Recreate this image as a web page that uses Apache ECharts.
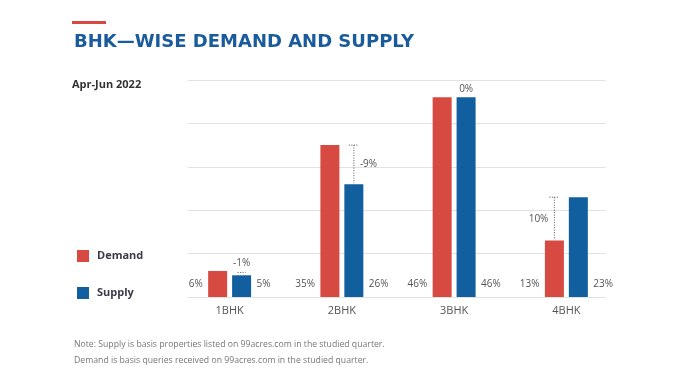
<!DOCTYPE html>
<html><head><meta charset="utf-8">
<script src="https://cdn.jsdelivr.net/npm/echarts@6/dist/echarts.min.js"></script>
<style>html,body{margin:0;padding:0;background:#fff}#c{width:680px;height:382px}</style>
</head><body><div id="c"></div>
<script>
var categories = ['1BHK', '2BHK', '3BHK', '4BHK'];
var demand = [6, 35, 46, 13];
var supply = [5, 26, 46, 23];
var changes = ['-1%', '-9%', '0%', '10%'];
var yTicks = [0, 10, 20, 30, 40, 50];

var RED = '#d64a42', BLUE = '#125fa0';
var chart = echarts.init(document.getElementById('c'), null, {renderer: 'canvas'});
var OFF = 12;

var annData = categories.map(function (c, i) { return [i, demand[i], supply[i]]; });

chart.setOption({
  animation: false,
  title: {
    text: 'BHK\u2014WISE DEMAND AND SUPPLY',
    left: 69, top: 28,
    textStyle: {fontFamily: 'DejaVu Sans', fontWeight: 'bold', fontSize: 18, color: '#1a5b9c'}
  },
  graphic: [
    {type: 'rect', shape: {x: 72, y: 21, width: 34, height: 3}, style: {fill: RED}},
    {type: 'text', left: 72, top: 79, style: {text: 'Apr-Jun 2022', font: 'bold 11px "Open Sans"', fill: '#333'}},
    {type: 'text', left: 74, top: 340, style: {text: 'Note: Supply is basis properties listed on 99acres.com in the studied quarter.', font: '8.7px "Open Sans"', fill: '#777'}},
    {type: 'text', left: 74, top: 356, style: {text: 'Demand is basis queries received on 99acres.com in the studied quarter.', font: '8.7px "Open Sans"', fill: '#777'}}
  ],
  legend: {
    orient: 'vertical', left: 72, top: 245,
    itemWidth: 12, itemHeight: 12, itemGap: 25,
    icon: 'rect',
    textStyle: {fontFamily: 'Open Sans', fontWeight: 'bold', fontSize: 11, color: '#3a3a48', padding: [0, 0, 0, 3]},
    data: ['Demand', 'Supply']
  },
  grid: [
    {left: 173.5, right: 57.5, top: 80, bottom: 85},
    {left: 188, right: 74, top: 80, bottom: 85}
  ],
  xAxis: [
    {type: 'category', data: categories, gridIndex: 0,
     axisLine: {show: false}, axisTick: {show: false},
     axisLabel: {fontFamily: 'Open Sans', fontSize: 11, color: '#555', margin: 8}},
    {type: 'category', data: categories, gridIndex: 1, show: false}
  ],
  yAxis: [
    {type: 'value', gridIndex: 0, min: yTicks[0], max: yTicks[yTicks.length - 1], interval: 10, show: false},
    {type: 'value', gridIndex: 1, min: yTicks[0], max: yTicks[yTicks.length - 1], interval: 10,
     axisLabel: {show: false}, axisLine: {show: false}, axisTick: {show: false},
     splitLine: {lineStyle: {color: '#e2e2e2', width: 1}}}
  ],
  series: [
    {name: 'Demand', type: 'bar', data: demand, barWidth: 19, barGap: '26%',
     itemStyle: {color: RED},
     label: {show: true, position: 'insideBottom', align: 'right', verticalAlign: 'middle',
       offset: [-15, -8], distance: 5,
       formatter: '{c}%', fontFamily: 'Open Sans', fontSize: 10, color: '#555'}},
    {name: 'Supply', type: 'bar', data: supply, barWidth: 19,
     itemStyle: {color: BLUE},
     label: {show: true, position: 'insideBottom', align: 'left', verticalAlign: 'middle',
       offset: [15, -8], distance: 5,
       formatter: '{c}%', fontFamily: 'Open Sans', fontSize: 10, color: '#555'}},
    {name: 'change', type: 'custom', data: annData, z: 10,
     renderItem: function (params, api) {
       var i = api.value(0), d = api.value(1), s = api.value(2);
       var c = api.coord([i, 0]);
       var pd = api.coord([i, d]), ps = api.coord([i, s]);
       var supplyLower = s <= d;
       var x = c[0] + (supplyLower ? OFF : -OFF);
       var yTop = Math.min(pd[1], ps[1]), yBot = Math.max(pd[1], ps[1]);
       var txt = changes[params.dataIndex];
       var lineStyle = {stroke: '#555', lineWidth: 1, lineDash: [1, 1.5]};
       var ch = [];
       var tf = '10px "Open Sans"';
       if (yBot - yTop > 12) {
         ch.push({type: 'line', shape: {x1: x, y1: yTop, x2: x, y2: yBot - 1}, style: lineStyle});
         ch.push({type: 'line', shape: {x1: x - 5, y1: yTop, x2: x + 5, y2: yTop}, style: lineStyle});
         ch.push({type: 'text', style: {text: txt, x: supplyLower ? x + 6 : x - 6, y: (yTop + yBot) / 2,
           align: supplyLower ? 'left' : 'right', verticalAlign: 'middle', font: tf, fill: '#555'}});
       } else {
         if (yBot - yTop > 2) {
           ch.push({type: 'line', shape: {x1: x - 4, y1: yTop + 1.5, x2: x + 4, y2: yTop + 1.5}, style: lineStyle});
         }
         ch.push({type: 'text', style: {text: txt, x: x, y: yTop - 8,
           align: 'center', verticalAlign: 'middle', font: tf, fill: '#555'}});
       }
       return {type: 'group', children: ch};
     }}
  ]
});
</script></body></html>
